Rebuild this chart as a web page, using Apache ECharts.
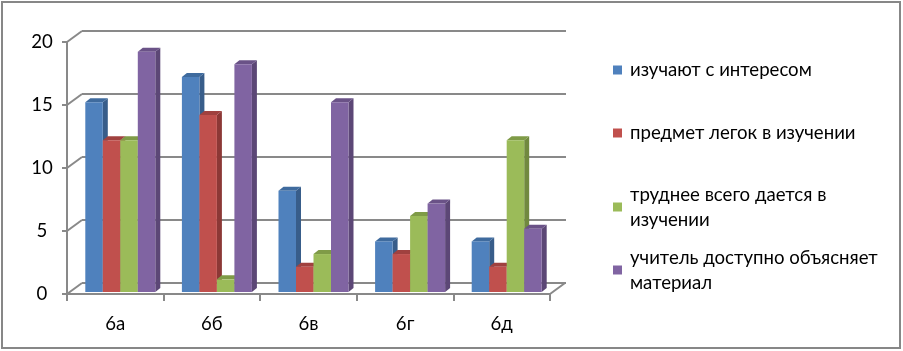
<!DOCTYPE html>
<html>
<head>
<meta charset="utf-8">
<script src="https://cdn.jsdelivr.net/npm/echarts@6/dist/echarts.min.js"></script>
<style>
  html, body { margin: 0; padding: 0; background: #fff; }
  #chart { width: 903px; height: 351px; }
</style>
</head>
<body>
<div id="chart"></div>
<script>
// данные
const categories = ['6а', '6б', '6в', '6г', '6д'];
const seriesNames = [
  'изучают с интересом',
  'предмет легок в изучении',
  'труднее всего дается в изучении',
  'учитель доступно объясняет материал',
];
const legendLabels = [
  'изучают с интересом',
  'предмет легок в изучении',
  'труднее всего дается в\nизучении',
  'учитель доступно объясняет\nматериал',
];
const interest = [15, 17, 8, 4, 4];
const easy = [12, 14, 2, 3, 2];
const hard = [12, 1, 3, 6, 12];
const teacher = [19, 18, 15, 7, 5];
const yTicks = [0, 5, 10, 15, 20];

const values = [interest, easy, hard, teacher];
const fronts = ['#4F81BD', '#C0504D', '#9BBB59', '#8064A2'];
const tops = ['#3F6B9E', '#A0413F', '#7F9B47', '#6A5287'];
const sides = ['#385D8A', '#8C3836', '#71893F', '#5C4776'];

const BAR_W = 17.5;
const DX = 5; // глубина столбика
const DY = 4;
const WALL_DX = 15; // смещение задней стенки
const WALL_DY = 11;
const gridColor = '#898989';
const font = 'Lato, "Noto Sans", sans-serif';
const fontSize = 18.6;

const myChart = echarts.init(document.getElementById('chart'));

function barRender(idx) {
  return function (params, api) {
    const top = api.coord([api.value(0), api.value(1)]);
    const base = api.coord([api.value(0), 0]);
    const x = top[0] + (idx - 2) * BAR_W;
    const y = top[1];
    const h = base[1] - top[1];
    return {
      type: 'group',
      children: [
        {
          type: 'polygon',
          shape: { points: [[x + BAR_W, y], [x + BAR_W + DX, y - DY], [x + BAR_W + DX, y + h - DY], [x + BAR_W, y + h]] },
          style: { fill: sides[idx] },
        },
        {
          type: 'polygon',
          shape: { points: [[x, y], [x + DX, y - DY], [x + BAR_W + DX, y - DY], [x + BAR_W, y]] },
          style: { fill: tops[idx] },
        },
        {
          type: 'rect',
          shape: { x: x, y: y, width: BAR_W, height: h },
          style: { fill: fronts[idx] },
        },
      ],
    };
  };
}

// диагонали от передней оси к задней стенке
function frameRender(params, api) {
  const cs = params.coordSys;
  const p = api.coord([0, api.value(1)]);
  const children = [{
    type: 'line',
    shape: { x1: cs.x, y1: p[1], x2: cs.x + WALL_DX, y2: p[1] - WALL_DY },
    style: { stroke: gridColor, lineWidth: 2 },
  }];
  if (api.value(1) === 0) {
    children.push({
      type: 'line',
      shape: { x1: cs.x + cs.width, y1: p[1], x2: cs.x + cs.width + WALL_DX, y2: p[1] - WALL_DY },
      style: { stroke: gridColor, lineWidth: 2 },
    });
  }
  return { type: 'group', children: children };
}

const legendTops = [57.5, 120.5, 169.5, 232.5];
const legends = seriesNames.map((name, i) => ({
  data: [name],
  orient: 'vertical',
  left: 613,
  top: legendTops[i],
  padding: 0,
  icon: 'rect',
  itemWidth: 9,
  itemHeight: 9,
  formatter: () => legendLabels[i],
  textStyle: {
    color: '#000',
    fontSize: fontSize,
    fontFamily: font,
    lineHeight: 25,
    padding: i >= 2 ? [25, 0, 0, 3] : [0, 0, 0, 3],
  },
}));

const series = values.map((vals, i) => ({
  name: seriesNames[i],
  type: 'custom',
  xAxisIndex: 2,
  yAxisIndex: 2,
  itemStyle: { color: fronts[i] },
  renderItem: barRender(i),
  encode: { x: 0, y: 1 },
  data: vals.map((v, k) => [k, v]),
  z: 5,
}));

series.push({
  type: 'custom',
  xAxisIndex: 1,
  yAxisIndex: 1,
  renderItem: frameRender,
  encode: { x: 0, y: 1 },
  data: yTicks.map((v) => [0, v]),
  silent: true,
  z: 1,
});

myChart.setOption({
  animation: false,
  backgroundColor: '#fff',
  graphic: [{
    type: 'rect',
    shape: { x: 2, y: 2, width: 898, height: 346 },
    style: { fill: 'none', stroke: '#878787', lineWidth: 2 },
    z: 0,
  }],
  legend: legends,
  grid: [
    // задняя стенка
    { left: 82, top: 31, width: 484, height: 252 },
    // передние оси
    { left: 67, top: 42, width: 483, height: 252 },
    // столбики
    { left: 72, top: 39, width: 483, height: 253 },
  ],
  xAxis: [
    { gridIndex: 0, type: 'category', data: categories, show: false },
    {
      gridIndex: 1,
      type: 'category',
      data: categories,
      axisLine: { lineStyle: { color: gridColor, width: 2 } },
      axisTick: { show: true, length: 7, lineStyle: { color: gridColor, width: 2 } },
      axisLabel: { color: '#000', fontSize: fontSize, fontFamily: font, margin: 20 },
      splitLine: { show: false },
    },
    { gridIndex: 2, type: 'category', data: categories, show: false },
  ],
  yAxis: [
    {
      gridIndex: 0,
      type: 'value',
      min: 0,
      max: 20,
      interval: 5,
      axisLine: { show: false },
      axisTick: { show: false },
      axisLabel: { show: false },
      splitLine: { lineStyle: { color: gridColor, width: 2 } },
    },
    {
      gridIndex: 1,
      type: 'value',
      min: 0,
      max: 20,
      interval: 5,
      axisLine: { show: true, lineStyle: { color: gridColor, width: 2 } },
      axisTick: { show: true, length: 5, lineStyle: { color: gridColor, width: 2 } },
      axisLabel: { color: '#000', fontSize: fontSize, fontFamily: font, align: 'center', margin: 25 },
      splitLine: { show: false },
    },
    { gridIndex: 2, type: 'value', min: 0, max: 20, interval: 5, show: false },
  ],
  series: series,
});
</script>
</body>
</html>
